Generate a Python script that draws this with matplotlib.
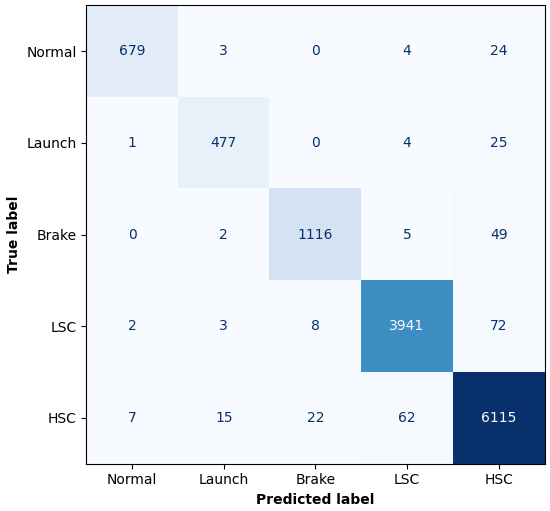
import numpy as np
import matplotlib.pyplot as plt

classes = ['Normal', 'Launch', 'Brake', 'LSC', 'HSC']
cm = np.array([
    [679, 3, 0, 4, 24],
    [1, 477, 0, 4, 25],
    [0, 2, 1116, 5, 49],
    [2, 3, 8, 3941, 72],
    [7, 15, 22, 62, 6115],
])

fig, ax = plt.subplots(figsize=(5.5, 5.11), dpi=100)
cmap = plt.get_cmap('Blues')
ax.imshow(cm, cmap=cmap, interpolation='nearest')

thresh = (cm.max() + cm.min()) / 2.0
for i in range(cm.shape[0]):
    for j in range(cm.shape[1]):
        color = cmap(0) if cm[i, j] > thresh else cmap(cmap.N - 1)
        ax.text(j, i, str(cm[i, j]), ha='center', va='center', color=color, fontsize=10)

ax.set_xticks(range(len(classes)))
ax.set_yticks(range(len(classes)))
ax.set_xticklabels(classes)
ax.set_yticklabels(classes)
ax.set_xlabel('Predicted label', fontweight='bold')
ax.set_ylabel('True label', fontweight='bold')

plt.subplots_adjust(left=0.157, right=0.99, top=0.99, bottom=0.092)
plt.savefig('out.png', dpi=100)
